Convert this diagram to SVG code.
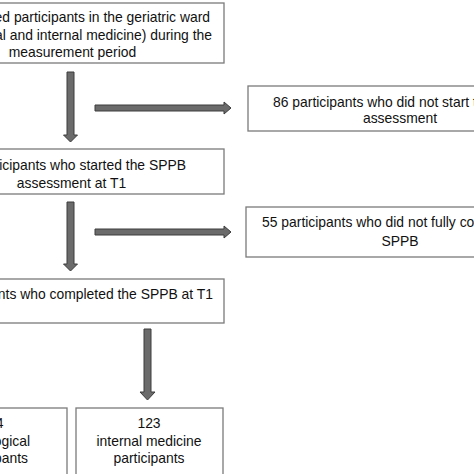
<svg xmlns="http://www.w3.org/2000/svg" width="474" height="474" viewBox="0 0 474 474">
<style>
.box{fill:#ffffff;stroke:#7a7a7a;stroke-width:1.3}
.t{font-family:"Liberation Sans",Arial,sans-serif;font-size:13.9px;fill:#111111}
.arr{fill:#6b6b6b;stroke:#3c3c3c;stroke-width:1}
</style>
<rect width="474" height="474" fill="#ffffff"/>
<g id="connectors">
<polygon class="arr" points="67,72 74,72 74,135 77.5,135 70.5,142 63.5,135 67,135"/>
<polygon class="arr" points="95,105 224,105 224,102 231,108 224,114 224,111 95,111"/>
<polygon class="arr" points="67,202 74,202 74,264 77.5,264 70.5,271 63.5,264 67,264"/>
<polygon class="arr" points="95,229 224,229 224,226 231,232 224,238 224,235 95,235"/>
<polygon class="arr" points="144,329 151,329 151,392 155,392 147.5,400 140,392 144,392"/>
</g>
<g id="node-total">
<rect class="box" x="-80" y="3" width="304" height="60"/>
<text class="t" x="210" y="22" text-anchor="end">Hospitalized participants in the geriatric ward</text>
<text class="t" x="212" y="40" text-anchor="end">(neurological and internal medicine) during the</text>
<text class="t" x="72.5" y="57" text-anchor="middle">measurement period</text>
</g>
<g id="node-not-started">
<rect class="box" x="248" y="86" width="304" height="45"/>
<text class="t" x="273" y="106.5">86 participants who did not start the SPPB</text>
<text class="t" x="400" y="123" text-anchor="middle">assessment</text>
</g>
<g id="node-started">
<rect class="box" x="-80" y="149" width="304" height="45"/>
<text class="t" x="186" y="170" text-anchor="end">Participants who started the SPPB</text>
<text class="t" x="71.5" y="188" text-anchor="middle">assessment at T1</text>
</g>
<g id="node-not-completed">
<rect class="box" x="246" y="207" width="304" height="50"/>
<text class="t" x="262" y="226.5">55 participants who did not fully complete the</text>
<text class="t" x="400" y="245.5" text-anchor="middle">SPPB</text>
</g>
<g id="node-completed">
<rect class="box" x="-80" y="279" width="304" height="44"/>
<text class="t" x="213" y="298.5" text-anchor="end">Participants who completed the SPPB at T1</text>
</g>
<g id="node-neuro">
<rect class="box" x="-90" y="408" width="157" height="70"/>
<text class="t" x="3.5" y="428" text-anchor="end">4</text>
<text class="t" x="30" y="446" text-anchor="end">neurological</text>
<text class="t" x="28" y="463" text-anchor="end">participants</text>
</g>
<g id="node-internal">
<rect class="box" x="76" y="408" width="147" height="70"/>
<text class="t" x="149" y="428" text-anchor="middle">123</text>
<text class="t" x="149" y="446" text-anchor="middle">internal medicine</text>
<text class="t" x="149" y="463" text-anchor="middle">participants</text>
</g>
</svg>
